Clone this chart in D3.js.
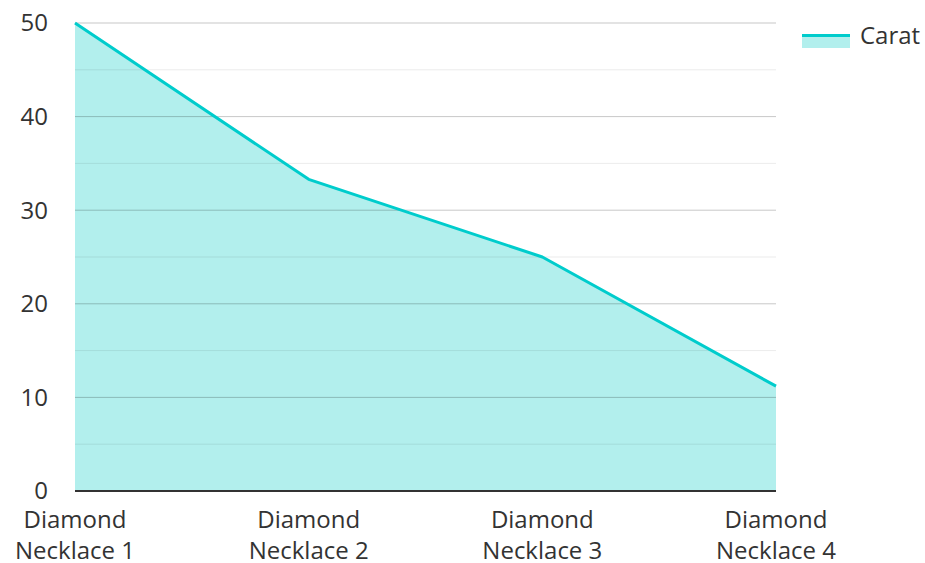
<!DOCTYPE html>
<html>
<head>
<meta charset="utf-8">
<script src="https://cdn.jsdelivr.net/npm/d3@7"></script>
<style>
  body { margin: 0; background: #fff; }
  svg text { font-family: "Open Sans", "Noto Sans", sans-serif; fill: #333; }
</style>
</head>
<body>
<svg width="925" height="563"></svg>
<script>
var categories = ["Diamond Necklace 1", "Diamond Necklace 2", "Diamond Necklace 3", "Diamond Necklace 4"];
var carat = [50, 33.3, 25, 11.2];
var yTicks = [0, 10, 20, 30, 40, 50];
var seriesName = "Carat";

var svg = d3.select("svg"),
    plotLeft = 75, plotRight = 776, plotTop = 23, plotBottom = 491;

var x = d3.scalePoint().domain(categories).range([plotLeft, plotRight]);
var y = d3.scaleLinear().domain([0, 50]).range([plotBottom, plotTop]);

var data = categories.map(function(c, i) { return {cat: c, v: carat[i]}; });

// area + line
var area = d3.area()
    .x(function(d) { return x(d.cat); })
    .y0(y(0))
    .y1(function(d) { return y(d.v); });
var line = d3.line()
    .x(function(d) { return x(d.cat); })
    .y(function(d) { return y(d.v); });

svg.append("path")
    .datum(data)
    .attr("d", area)
    .attr("fill", "#b2efed");

// grid, drawn over the fill
var minor = d3.range(5, 50, 10);
svg.append("g").selectAll("line")
    .data(minor)
    .enter().append("line")
    .attr("x1", plotLeft).attr("x2", plotRight)
    .attr("y1", function(d) { return y(d); })
    .attr("y2", function(d) { return y(d); })
    .attr("stroke", "#000").attr("stroke-opacity", 0.08)
    .attr("stroke-width", 1);

svg.append("g").selectAll("line")
    .data(yTicks.slice(1))
    .enter().append("line")
    .attr("x1", plotLeft).attr("x2", plotRight)
    .attr("y1", function(d) { return y(d); })
    .attr("y2", function(d) { return y(d); })
    .attr("stroke", "#000").attr("stroke-opacity", 0.22)
    .attr("stroke-width", 1);

svg.append("path")
    .datum(data)
    .attr("d", line)
    .attr("fill", "none")
    .attr("stroke", "#00cccc")
    .attr("stroke-width", 3)
    .attr("stroke-linejoin", "round");

// baseline
svg.append("line")
    .attr("x1", plotLeft).attr("x2", plotRight)
    .attr("y1", y(0)).attr("y2", y(0))
    .attr("stroke", "#333").attr("stroke-width", 2);

// y labels
svg.append("g").selectAll("text")
    .data(yTicks)
    .enter().append("text")
    .attr("x", 48)
    .attr("y", function(d) { return y(d); })
    .attr("dy", "0.35em")
    .attr("text-anchor", "end")
    .attr("font-size", 24)
    .text(function(d) { return d; });

// x labels, two lines
var xl = svg.append("g").selectAll("text")
    .data(categories)
    .enter().append("text")
    .attr("text-anchor", "middle")
    .attr("font-size", 24)
    .attr("y", 528);
xl.append("tspan")
    .attr("x", function(d) { return x(d); })
    .text(function(d) { return d.split(" ").slice(0, 1).join(" "); });
xl.append("tspan")
    .attr("x", function(d) { return x(d); })
    .attr("dy", 31)
    .text(function(d) { return d.split(" ").slice(1).join(" "); });

// legend
svg.append("rect")
    .attr("x", 802).attr("y", 34).attr("width", 48).attr("height", 14)
    .attr("fill", "#b2efed");
svg.append("line")
    .attr("x1", 802).attr("x2", 850).attr("y1", 35.5).attr("y2", 35.5)
    .attr("stroke", "#00cccc").attr("stroke-width", 3);
svg.append("text")
    .attr("x", 860).attr("y", 36)
    .attr("dy", "0.35em")
    .attr("font-size", 24)
    .text(seriesName);
</script>
</body>
</html>
